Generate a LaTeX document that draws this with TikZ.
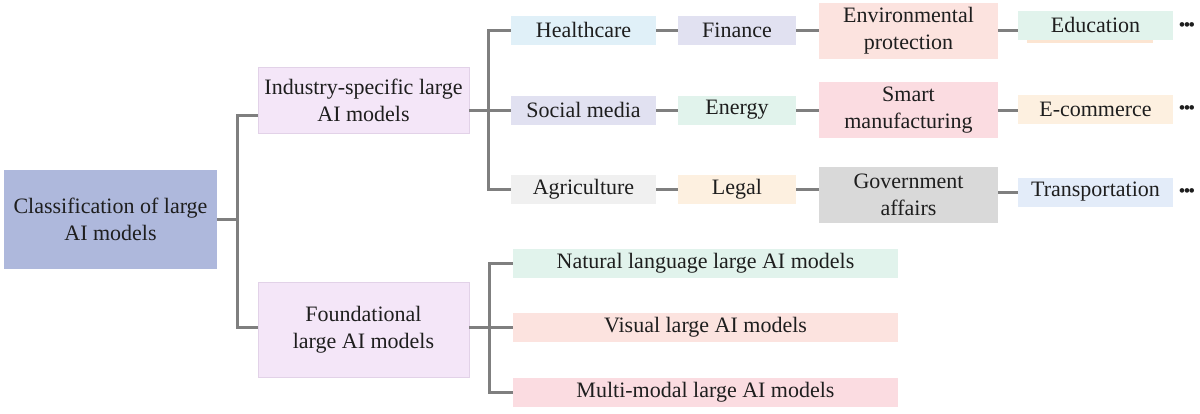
\documentclass[tikz,border=0pt]{standalone}
\usepackage{fontspec}
\setmainfont{Liberation Serif}
\definecolor{linegray}{HTML}{7F7F7F}
\definecolor{rootc}{HTML}{AEB8DC}
\definecolor{purp}{HTML}{F4E6F8}
\definecolor{purpb}{HTML}{E2D2E8}
\definecolor{lblue}{HTML}{E0F0F8}
\definecolor{lav}{HTML}{E1E1F1}
\definecolor{salmon}{HTML}{FCE3DF}
\definecolor{mint}{HTML}{E1F3EC}
\definecolor{rosepink}{HTML}{FBDCE1}
\definecolor{lorange}{HTML}{FDF0E0}
\definecolor{lgray}{HTML}{F0F0F0}
\definecolor{mgray}{HTML}{D9D9D9}
\definecolor{tblue}{HTML}{E3ECF9}
\definecolor{eduorange}{HTML}{FCE5D2}
\definecolor{txt}{HTML}{1E1E1E}
\begin{document}
\begin{tikzpicture}[x=1pt,y=-1pt,
  box/.style={rectangle, inner sep=0pt, align=center, text=txt,
    font=\rmfamily\fontsize{22}{27}\selectfont},
  col1/.style={box, minimum width=145pt, minimum height=29pt},
  col2/.style={box, minimum width=118pt, minimum height=29pt},
  col3/.style={box, minimum width=179pt, minimum height=56pt},
  col4/.style={box, minimum width=155pt, minimum height=29pt},
  wide/.style={box, minimum width=385pt, minimum height=29pt},
  mid/.style={box, fill=purp, draw=purpb, line width=0.8pt, minimum width=211pt},
  conn/.style={draw=linegray, line width=3pt},
  dots/.style={font=\rmfamily\bfseries\fontsize{17}{17}\selectfont, text=txt, inner sep=0pt}]
\path[use as bounding box] (0,0) rectangle (1200,413);

% root and second level
\node[box, fill=rootc, minimum width=213pt, minimum height=99pt] (root) at (110.5,219.5) {Classification of large\\AI models};
\node[mid, minimum height=66pt] (ind) at (363.5,100) {Industry-specific large\\AI models};
\node[mid, minimum height=95pt] (found) at (363.5,329.5) {Foundational\\large AI models};

% row 1
\node[col1, fill=lblue] (health) at (583.5,30) {Healthcare};
\node[col2, fill=lav] (fin) at (737,30) {Finance};
\node[col3, fill=salmon] (env) at (908.5,31) {Environmental\\protection};
\fill[eduorange] (1027,34) rectangle (1153,43);
\node[col4, fill=mint] (edu) at (1095.5,25) {Education};
\node[dots] (d1) at (1187,27) {\textbullet\kern-1pt\textbullet\kern-1pt\textbullet};

% row 2
\node[col1, fill=lav] (social) at (583.5,110) {Social media};
\node[col2, fill=mint] (energy) at (737,110) {Energy};
\node[col3, fill=rosepink] (smart) at (908.5,110) {Smart\\manufacturing};
\node[col4, fill=lorange] (ecom) at (1095.5,109) {E-commerce};
\node[dots] (d2) at (1187,110) {\textbullet\kern-1pt\textbullet\kern-1pt\textbullet};

% row 3
\node[col1, fill=lgray] (agri) at (583.5,189) {Agriculture};
\node[col2, fill=lorange] (legal) at (737,189) {Legal};
\node[col3, fill=mgray] (gov) at (908.5,195) {Government\\affairs};
\node[col4, fill=tblue] (trans) at (1095.5,192) {Transportation};
\node[dots] (d3) at (1187,193) {\textbullet\kern-1pt\textbullet\kern-1pt\textbullet};

% foundational children
\node[wide, fill=mint] (nl) at (705.5,263.5) {Natural language large AI models};
\node[wide, fill=salmon] (vis) at (705.5,327) {Visual large AI models};
\node[wide, fill=rosepink] (multi) at (705.5,392.5) {Multi-modal large AI models};

% junctions
\coordinate (j0) at (237,219.5);
\coordinate (j1) at (488,110);
\coordinate (j2) at (489,327);

% connectors
\draw[conn] (root.east) -- (j0);
\draw[conn] ([yshift=-15pt]ind.west) -| (j0) |- ([yshift=2.5pt]found.west);
\draw[conn] ([yshift=-10pt]ind.east) -- (social.west);
\draw[conn] (health.west) -| (j1) |- (agri.west);
\draw[conn] ([yshift=2.5pt]found.east) -- (j2);
\draw[conn] (nl.west) -| (j2) |- (multi.west);
\draw[conn] (j2) -- (vis.west);

\draw[conn] (health.east) -- (fin.west);
\draw[conn] (fin.east) -- (fin.east -| env.west);
\draw[conn] (env.east |- fin.east) -- (fin.east -| edu.west);
\draw[conn] (social.east) -- (energy.west);
\draw[conn] (energy.east) -- (smart.west);
\draw[conn] (smart.east) -- (smart.east -| ecom.west);
\draw[conn] (agri.east) -- (legal.west);
\draw[conn] (legal.east) -- (legal.east -| gov.west);
\draw[conn] (gov.east |- trans.west) -- (trans.west);
\end{tikzpicture}
\end{document}
